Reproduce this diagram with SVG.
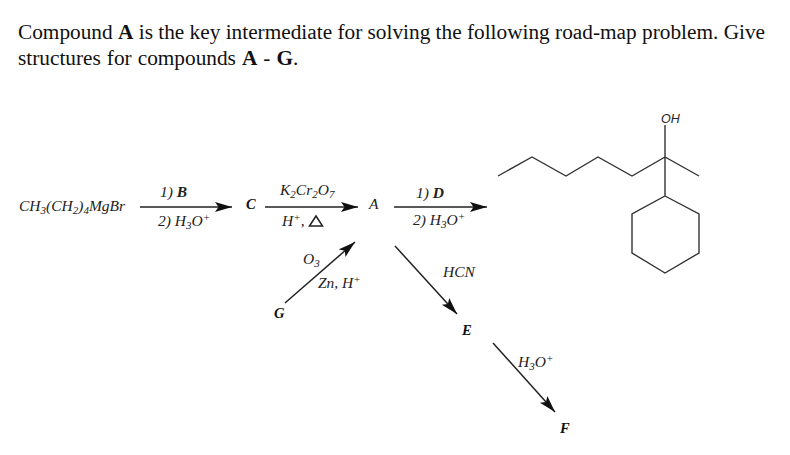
<svg xmlns="http://www.w3.org/2000/svg" width="790" height="455" viewBox="0 0 790 455">
<style>
text{font-family:"Liberation Serif","Times New Roman",serif;fill:#222}
.h{font-size:21.3px;fill:#111}
.r{font-size:15.500px;font-style:italic}
.l{font-size:14.500px;font-style:italic;font-weight:bold;fill:#111}
.s{font-size:11px}
.a{stroke:#222;stroke-width:1.5;fill:none}
.b{stroke:#333;stroke-width:1.4;fill:none;stroke-linejoin:miter}
</style>
<defs><marker id="ah" markerUnits="userSpaceOnUse" markerWidth="18" markerHeight="12" refX="17" refY="5.500" orient="auto"><path d="M0 .5L17 5.500L0 10.500L3.500 5.500Z" fill="#111"/></marker></defs>
<rect width="790" height="455" fill="#fff"/>
<g id="heading">
<text class="h" x="18" y="39">Compound <tspan font-weight="bold">A</tspan> is the key intermediate for solving the following road-map problem. Give</text>
<text class="h" x="18" y="65" word-spacing="0.7">structures for compounds <tspan font-weight="bold">A</tspan> - <tspan font-weight="bold">G</tspan>.</text>
</g>
<g id="connectors">
<line class="a" x1="140" y1="207" x2="232" y2="207" marker-end="url(#ah)"/>
<line class="a" x1="265" y1="207" x2="358" y2="207" marker-end="url(#ah)"/>
<line class="a" x1="394" y1="207" x2="487" y2="207" marker-end="url(#ah)"/>
<line class="a" x1="285" y1="303" x2="355" y2="242" marker-end="url(#ah)"/>
<line class="a" x1="395" y1="246" x2="457" y2="314" marker-end="url(#ah)"/>
<line class="a" x1="493" y1="343" x2="555" y2="412" marker-end="url(#ah)"/>
</g>
<g id="start"><text class="r" x="19" y="211">CH<tspan class="s" dy="3">3</tspan><tspan dy="-3">(CH</tspan><tspan class="s" dy="3">2</tspan><tspan dy="-3">)</tspan><tspan class="s" dy="3">4</tspan><tspan dy="-3">MgBr</tspan></text></g>
<g id="label-arrow1">
<text class="r" x="160" y="197">1) <tspan font-weight="bold">B</tspan></text>
<text class="r" x="158" y="226">2) H<tspan class="s" dy="3">3</tspan><tspan dy="-3">O</tspan><tspan class="s" dy="-5">+</tspan></text>
</g>
<g id="node-C"><text class="l" x="246" y="209">C</text></g>
<g id="label-arrow2">
<text class="r" x="280" y="195">K<tspan class="s" dy="3">2</tspan><tspan dy="-3">Cr</tspan><tspan class="s" dy="3">2</tspan><tspan dy="-3">O</tspan><tspan class="s" dy="3">7</tspan></text>
<text class="r" x="282" y="226">H<tspan class="s" dy="-5">+</tspan><tspan dy="5">,</tspan></text>
<path class="a" d="M309.500 226L316 216L322.500 226Z" stroke-width="1.300"/>
</g>
<g id="node-A"><text class="r" x="369" y="209">A</text></g>
<g id="label-arrow3">
<text class="r" x="416" y="198">1) <tspan font-weight="bold">D</tspan></text>
<text class="r" x="413" y="225">2) H<tspan class="s" dy="3">3</tspan><tspan dy="-3">O</tspan><tspan class="s" dy="-5">+</tspan></text>
</g>
<g id="label-g">
<text class="r" x="303" y="264">O<tspan class="s" dy="3">3</tspan></text>
<text class="r" x="318" y="288">Zn, H<tspan class="s" dy="-5">+</tspan></text>
</g>
<g id="node-G"><text class="l" x="274" y="318">G</text></g>
<g id="label-e"><text class="r" x="443" y="277">HCN</text></g>
<g id="node-E"><text class="l" x="462" y="335">E</text></g>
<g id="label-f"><text class="r" x="518" y="367">H<tspan class="s" dy="3">3</tspan><tspan dy="-3">O</tspan><tspan class="s" dy="-5">+</tspan></text></g>
<g id="node-F"><text class="l" x="560" y="433">F</text></g>
<g id="molecule">
<path class="b" d="M498 176L532 157L566 176L598 157L632 176L665 157L699 176M665 125V196M665 196L699 214V253L665 273L632 253V214Z"/>
<text x="661" y="123" style="font-family:'Liberation Sans',Arial,sans-serif;font-size:12.500px;font-style:italic">OH</text>
</g>
</svg>
